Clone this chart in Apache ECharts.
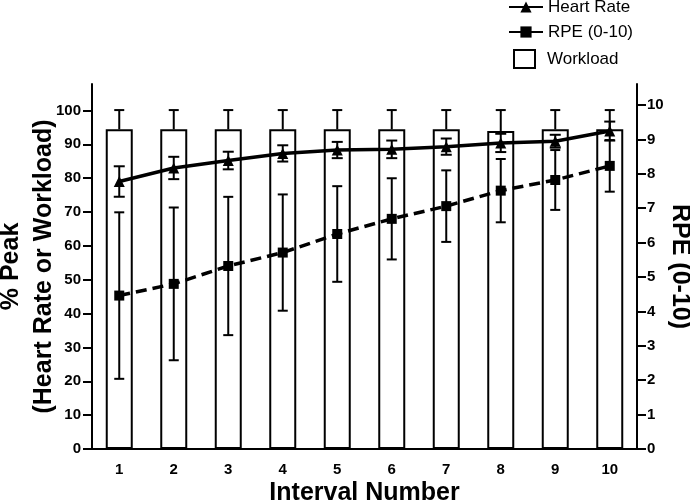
<!DOCTYPE html>
<html>
<head>
    <meta charset="utf-8">
    <script src="https://cdn.jsdelivr.net/npm/echarts@6/dist/echarts.min.js"></script>
</head>
<body style="margin:0;background-color:#ffffff">
    <div id="main" style="width: 690px;height:500px;"></div>
    <script type="text/javascript">

        var categories = ['1', '2', '3', '4', '5', '6', '7', '8', '9', '10'];
        // % peak workload (bars) and its SD
        var workload = [94.4, 94.4, 94.4, 94.4, 94.4, 94.4, 94.4, 93.9, 94.4, 94.4];
        var workloadSd = [5.7, 5.7, 5.7, 5.7, 5.7, 5.7, 5.7, 6.2, 5.7, 5.7];
        // % peak heart rate and SD
        var heartRate = [79.0, 83.0, 85.2, 87.3, 88.3, 88.5, 89.3, 90.4, 90.9, 93.9];
        var heartRateSd = [4.5, 3.3, 2.6, 2.4, 2.4, 2.6, 2.4, 2.7, 1.9, 2.8];
        // RPE (0-10) and SD
        var rpe = [4.46, 4.80, 5.32, 5.71, 6.25, 6.69, 7.06, 7.51, 7.82, 8.23];
        var rpeSd = [2.42, 2.22, 2.01, 1.69, 1.39, 1.18, 1.04, 0.92, 0.87, 0.75];

        var leftTicks = [0, 10, 20, 30, 40, 50, 60, 70, 80, 90, 100];
        var rightTicks = [0, 1, 2, 3, 4, 5, 6, 7, 8, 9, 10];

        var font = 'Liberation Sans, Arial, sans-serif';

        function errRange(vals, sd, upperOnly) {
            return vals.map(function (v, i) {
                return [i, upperOnly ? v : v - sd[i], v + sd[i]];
            });
        }

        function errorBars(capW, noLowCap) {
            return function (params, api) {
                var top = api.coord([api.value(0), api.value(2)]);
                var bot = api.coord([api.value(0), api.value(1)]);
                var st = {stroke: '#000', lineWidth: 2, fill: null};
                var kids = [
                    {type: 'line', shape: {x1: top[0], y1: top[1], x2: bot[0], y2: bot[1]}, style: st},
                    {type: 'line', shape: {x1: top[0] - capW / 2, y1: top[1], x2: top[0] + capW / 2, y2: top[1]}, style: st}
                ];
                if (!noLowCap) {
                    kids.push({type: 'line', shape: {x1: bot[0] - capW / 2, y1: bot[1], x2: bot[0] + capW / 2, y2: bot[1]}, style: st});
                }
                return {type: 'group', children: kids};
            };
        }

        var myChart = echarts.init(document.getElementById('main'));

        var option = {
            animation: false,
            textStyle: {fontFamily: font, color: '#000'},
            grid: {left: 92, right: 53, top: 84, bottom: 51, containLabel: false, outerBoundsMode: 'none'},
            legend: [
                {
                    orient: 'vertical', left: 508, top: -2, padding: 0,
                    itemWidth: 34, itemHeight: 14, itemGap: 7,
                    textStyle: {fontSize: 17, lineHeight: 18, color: '#000', fontFamily: font},
                    data: [
                        {name: 'Heart Rate', lineStyle: {type: 'solid'}},
                        {name: 'RPE (0-10)', lineStyle: {type: 'solid'}}
                    ]
                },
                {
                    orient: 'vertical', left: 513, top: 49, padding: 0,
                    itemWidth: 21, itemHeight: 18,
                    textStyle: {fontSize: 17, lineHeight: 18, color: '#000', fontFamily: font, padding: [0, 0, 0, 7]},
                    data: [{name: 'Workload', icon: 'rect', itemStyle: {color: '#fff', borderColor: '#000', borderWidth: 2}}]
                }
            ],
            xAxis: {
                type: 'category',
                data: categories,
                name: 'Interval Number',
                nameLocation: 'middle',
                nameGap: 32,
                nameMoveOverlap: false,
                nameTextStyle: {fontSize: 25, fontWeight: 'bold', color: '#000'},
                axisLine: {lineStyle: {color: '#000', width: 2}},
                axisTick: {alignWithLabel: true, length: 6, lineStyle: {color: '#000', width: 2}},
                axisLabel: {fontSize: 15, fontWeight: 'bold', color: '#000', margin: 13}
            },
            yAxis: [
                {
                    type: 'value',
                    min: 0,
                    max: 107.8,
                    position: 'left',
                    name: '% Peak\n(Heart Rate or Workload)',
                    nameLocation: 'middle',
                    nameRotate: 90,
                    nameGap: 31,
                    nameMoveOverlap: false,
                    nameTextStyle: {fontSize: 25, fontWeight: 'bold', color: '#000', lineHeight: 33},
                    splitLine: {show: false},
                    axisLine: {show: true, lineStyle: {color: '#000', width: 2}},
                    axisTick: {show: true, length: 9, customValues: leftTicks, lineStyle: {color: '#000', width: 2}},
                    axisLabel: {fontSize: 15, fontWeight: 'bold', color: '#000', margin: 11, customValues: leftTicks}
                },
                {
                    type: 'value',
                    min: 0,
                    max: 10.61,
                    position: 'right',
                    name: 'RPE (0-10)',
                    nameLocation: 'middle',
                    nameRotate: -90,
                    nameGap: 30,
                    nameMoveOverlap: false,
                    nameTextStyle: {fontSize: 25, fontWeight: 'bold', color: '#000'},
                    splitLine: {show: false},
                    axisLine: {show: true, lineStyle: {color: '#000', width: 2}},
                    axisTick: {show: true, length: 9, customValues: rightTicks, lineStyle: {color: '#000', width: 2}},
                    axisLabel: {fontSize: 15, fontWeight: 'bold', color: '#000', margin: 10, customValues: rightTicks}
                }
            ],
            series: [
                {
                    name: 'Workload',
                    type: 'bar',
                    yAxisIndex: 0,
                    barWidth: 27,
                    z: 1,
                    itemStyle: {color: '#fff', borderColor: '#000', borderWidth: 2},
                    data: workload
                },
                {
                    name: 'Workload SD',
                    type: 'custom',
                    yAxisIndex: 0,
                    z: 2,
                    silent: true,
                    renderItem: errorBars(10, true),
                    encode: {x: 0, y: [1, 2]},
                    data: errRange(workload, workloadSd, true)
                },
                {
                    name: 'Heart Rate SD',
                    type: 'custom',
                    yAxisIndex: 0,
                    z: 3,
                    silent: true,
                    renderItem: errorBars(11, false),
                    encode: {x: 0, y: [1, 2]},
                    data: errRange(heartRate, heartRateSd, false)
                },
                {
                    name: 'RPE SD',
                    type: 'custom',
                    yAxisIndex: 1,
                    z: 3,
                    silent: true,
                    renderItem: errorBars(10, false),
                    encode: {x: 0, y: [1, 2]},
                    data: errRange(rpe, rpeSd, false)
                },
                {
                    name: 'Heart Rate',
                    type: 'line',
                    yAxisIndex: 0,
                    z: 4,
                    symbol: 'triangle',
                    symbolSize: 11,
                    color: '#000',
                    lineStyle: {color: '#000', width: 3.5},
                    itemStyle: {color: '#000'},
                    data: heartRate
                },
                {
                    name: 'RPE (0-10)',
                    type: 'line',
                    yAxisIndex: 1,
                    z: 4,
                    symbol: 'rect',
                    symbolSize: 10,
                    color: '#000',
                    lineStyle: {color: '#000', width: 3.5, type: [11, 6]},
                    itemStyle: {color: '#000'},
                    data: rpe
                }
            ]
        };

        myChart.setOption(option);
    </script>
</body>
</html>
